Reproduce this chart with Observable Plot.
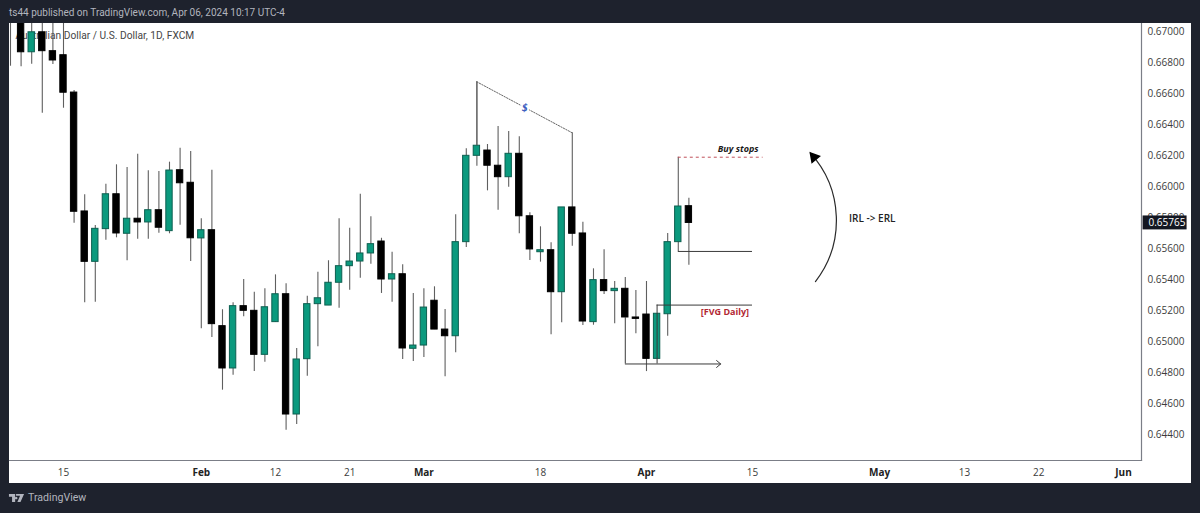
<!DOCTYPE html>
<html>
<head>
<meta charset="utf-8">
<script src="https://cdn.jsdelivr.net/npm/d3@7"></script>
<script src="https://cdn.jsdelivr.net/npm/@observablehq/plot@0.6"></script>
<style>
  html, body { margin: 0; padding: 0; background: #1e222d; width: 1200px; height: 513px; overflow: hidden; }
  #wrap { position: relative; width: 1200px; height: 513px; font-family: "Open Sans", sans-serif; }
  #panel { position: absolute; left: 9px; top: 23px; width: 1182px; height: 460px; background: #fff; }
  #head { position: absolute; left: 9px; top: 7px; font-family: Roboto, sans-serif; font-size: 10px; color: #b2b5be; white-space: nowrap; }
  #foot { position: absolute; left: 8px; top: 491px; font-family: Roboto, sans-serif; font-size: 10.6px; color: #b2b5be; display: flex; align-items: center; gap: 3px; }
  #chart { position: absolute; left: 0; top: 0; }
  svg { background: transparent !important; }
</style>
</head>
<body>
<div id="wrap">
  <div id="panel"></div>
  <div id="head">ts44 published on TradingView.com, Apr 06, 2024 10:17 UTC-4</div>
  <div id="foot">
    <svg width="17" height="8" viewBox="0 0 17 9"><path d="M0 0h7v9H3.5V3H0z M8 0h9l-4 9H9.5l3-7H8z M8.2 3.2a1.4 1.4 0 1 0 .01 0z" fill="#b2b5be"/></svg>
    <span>TradingView</span>
  </div>
  <div id="chart"></div>
</div>
<script>
const openP = [.6725,.6712,.66866,.66995,.66873,.66847,.66606,.65839,.65514,.65725,.65950,.65695,.65792,.65768,.65847,.65712,.66105,.66024,.65665,.65718,.65099,.64826,.65228,.65198,.64914,.65125,.65305,.64529,.64886,.65241,.65232,.65379,.65486,.65516,.65568,.65645,.65400,.65434,.64953,.64974,.65263,.65077,.65034,.65641,.66198,.66232,.66134,.66060,.66211,.65808,.65576,.65589,.65318,.65865,.65697,.65125,.65396,.65325,.65340,.65155,.65174,.64888,.65176,.65641,.65873];
const highP = [.6730,.6718,.6708,.6706,.67055,.67055,.66619,.65946,.65748,.66015,.66140,.66123,.66208,.66101,.66097,.66157,.66247,.66226,.65792,.66105,.65205,.65250,.65400,.65318,.65340,.65430,.65372,.64955,.65292,.65447,.65521,.65792,.65731,.65950,.65805,.65666,.65576,.65495,.65310,.65340,.65353,.65206,.65817,.66243,.66675,.66271,.66387,.66355,.66321,.65830,.65740,.65637,.65865,.66346,.65770,.65469,.65592,.65387,.65413,.65329,.65387,.65179,.65697,.66189,.65925];
const lowP = [.66776,.66772,.66789,.66473,.66787,.66505,.65763,.65250,.65254,.65654,.65669,.65521,.65660,.65660,.65699,.65695,.65750,.65516,.65082,.65026,.64686,.64783,.65159,.64806,.64866,.65123,.64428,.64465,.64776,.64966,.65232,.65215,.65331,.65408,.65499,.65310,.65254,.64884,.64871,.64897,.65077,.64772,.64927,.65606,.66131,.65972,.65847,.65995,.65695,.65523,.65512,.65043,.65121,.65615,.65103,.65105,.65303,.65114,.65155,.65050,.64806,.64888,.65034,.65581,.65492];
const closeP = [.6708,.66866,.66995,.66873,.66813,.66605,.65837,.65514,.65727,.65950,.65697,.65792,.65768,.65847,.65734,.66103,.66021,.65666,.65718,.65112,.64826,.65228,.65198,.64914,.65221,.65305,.64529,.64884,.65241,.65279,.65379,.65486,.65516,.65568,.65628,.65400,.65434,.64955,.64974,.65219,.65077,.65034,.65641,.66198,.66263,.66134,.66060,.66211,.65808,.65594,.65589,.65318,.65865,.65695,.65129,.65396,.65325,.65340,.65155,.65146,.64888,.65179,.65641,.65871,.65765];

const candles = openP.map((o, i) => ({i, o, h: highP[i], l: lowP[i], c: closeP[i]}));

const yTicks = [.644,.646,.648,.650,.652,.654,.656,.658,.660,.662,.664,.666,.668,.670];
const minorTickDays = [5,25,32,50,70,90,97];
const minorTickLabels = ["15","12","21","18","15","13","22"];
const majorTickDays = [18,39,60,82,105];
const majorTickLabels = ["Feb","Mar","Apr","May","Jun"];
const lastPrice = 0.65765;

const sweepX = [44, 53];
const sweepY = [0.66675, 0.66346];
const hLines = [
  {x1: 63.0, x2: 70, y: 0.65581},
  {x1: 61, x2: 70, y: 0.65235}
];
const vLines = [
  {x: 58, y1: 0.65155, y2: 0.64855},
  {x: 61, y1: 0.65235, y2: 0.64855}
];
const targetLine = {x1: 58, x2: 67, y: 0.64855};
const buyStops = {x1: 63, x2: 71, y: 0.66189};
const curve = {x1: 75.94, y1: 0.65387, x2: 75.47, y2: 0.66215};
const buyNote = {t: "Buy stops", x: 68.65, y: 0.66239};
const fvgNote = {t: "[FVG Daily]", x: 67.4, y: 0.65187};
const irlNote = {t: "IRL -> ERL", x: 81.3, y: 0.65790};
const sweepNote = {t: "$", x: 48.5, y: 0.66510};

const lineCol = "#3a3a3a";
const wick = "#5f5f5f";
const green = "#0b9a7e";
const greenEdge = "#0d5f50";
const axisCol = "#7b7e87";

const chart = Plot.plot({
  width: 1200, height: 513,
  marginLeft: 9, marginRight: 59, marginTop: 23, marginBottom: 53,
  style: {background: "transparent", fontFamily: "'Open Sans', sans-serif"},
  x: {domain: [-0.094, 106.7], range: [9, 1141], axis: null},
  y: {domain: [0.642323, 0.670516], range: [460, 23], axis: null},
  marks: [
    Plot.text(["Australian Dollar / U.S. Dollar, 1D, FXCM"], {
      frameAnchor: "top-left", dx: 6, dy: 8, fill: "#454545", fontSize: 10.2, textAnchor: "start", fontFamily: "Roboto, sans-serif"
    }),
    Plot.ruleX(candles, {x: "i", y1: "l", y2: "h", stroke: wick, strokeWidth: 1.1, clip: true}),
    Plot.rect(candles, {
      x1: d => d.i - 0.3, x2: d => d.i + 0.3,
      y1: "o", y2: "c",
      fill: d => d.c >= d.o ? green : "#000",
      stroke: d => d.c >= d.o ? greenEdge : "#000",
      strokeWidth: 1, clip: true
    }),
    // annotations
    Plot.ruleX([44], {y1: 0.66675, y2: 0.66263, stroke: wick, strokeWidth: 1}),
    Plot.line(sweepX.map((x, k) => ({x, y: sweepY[k]})), {x: "x", y: "y", stroke: "#666", strokeWidth: 1, strokeDasharray: "1.4 1.4"}),
    Plot.ruleY([buyStops], {x1: "x1", x2: "x2", y: "y", stroke: "#c0505a", strokeWidth: 1, strokeDasharray: "3 3"}),
    Plot.ruleY(hLines, {x1: "x1", x2: "x2", y: "y", stroke: lineCol, strokeWidth: 1}),
    Plot.ruleX(vLines, {x: "x", y1: "y1", y2: "y2", stroke: lineCol, strokeWidth: 1}),
    Plot.arrow([targetLine], {x1: "x1", x2: "x2", y1: "y", y2: "y", stroke: lineCol, strokeWidth: 1, headLength: 8, headAngle: 80}),
    Plot.arrow([curve], {x1: "x1", y1: "y1", x2: "x2", y2: "y2", bend: -40, stroke: "#2a2a2a", strokeWidth: 1.2, headLength: 0}),
    Plot.dot([curve], {x: "x2", y: "y2", symbol: "triangle", r: 3.6, rotate: -40, fill: "#000", stroke: "#000", dx: 3.5, dy: 4}),
    Plot.text([buyNote], {x: "x", y: "y", text: "t", fill: "#1a1a1a", fontWeight: 700, fontStyle: "italic", fontSize: 9}),
    Plot.text([fvgNote], {x: "x", y: "y", text: "t", fill: "#b22833", fontWeight: 700, fontSize: 9}),
    Plot.text([irlNote], {x: "x", y: "y", text: "t", fill: "#222", fontWeight: 600, fontSize: 10}),
    Plot.text([sweepNote], {x: "x", y: "y", text: "t", fill: "#3f5fbf", fontWeight: 700, fontStyle: "italic", fontSize: 10.5, stroke: "white", strokeWidth: 4, paintOrder: "stroke"}),
    // axes
    Plot.frame({anchor: "bottom", stroke: axisCol, strokeWidth: 1.2}),
    Plot.frame({anchor: "right", stroke: axisCol, strokeWidth: 1.2}),
    Plot.axisY(yTicks, {
      anchor: "right", tickSize: 0, tickPadding: 6, tickFormat: d3.format(".5f"),
      textAnchor: "start", label: null, fontSize: 10, fill: "#3c3c3c"
    }),
    Plot.rect([lastPrice], {
      x1: 106.85, x2: 111, y1: d => d - 0.00045, y2: d => d + 0.00045, fill: "#131722"
    }),
    Plot.text([lastPrice], {
      x: 106.7, y: d => d, text: d => d3.format(".5f")(d), fill: "#fff", dx: 7,
      textAnchor: "start", fontSize: 10
    }),
    Plot.axisX(minorTickDays, {
      anchor: "bottom", tickSize: 0, tickPadding: 8, label: null,
      tickFormat: d => minorTickLabels[minorTickDays.indexOf(d)], fontSize: 10, fill: "#3c3c3c"
    }),
    Plot.axisX(majorTickDays, {
      anchor: "bottom", tickSize: 0, tickPadding: 8, label: null,
      tickFormat: d => majorTickLabels[majorTickDays.indexOf(d)], fontSize: 10, fontWeight: 700, fill: "#222"
    })
  ]
});
document.getElementById("chart").appendChild(chart);
</script>
</body>
</html>
